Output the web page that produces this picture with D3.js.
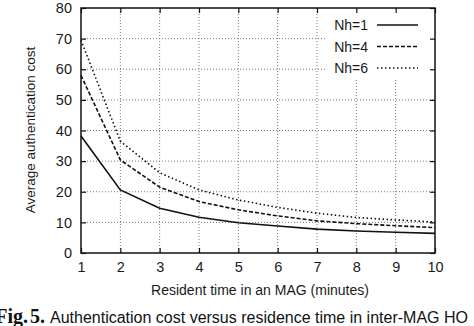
<!DOCTYPE html>
<html><head><meta charset="utf-8">
<script src="https://cdn.jsdelivr.net/npm/d3@7"></script>
<style>body{margin:0;background:#fff;}svg{display:block;}</style>
</head><body>
<script>
const xValues = [1,2,3,4,5,6,7,8,9,10];
const nh1 = [38.2,20.6,14.6,11.7,9.9,8.8,7.8,7.2,6.8,6.4];
const nh4 = [58,30.4,21.5,16.8,14.1,12.1,10.5,9.6,8.9,8.3];
const nh6 = [69.5,36.5,26.2,20.6,17.3,14.9,13.0,11.6,10.8,10.1];
const seriesNames = ["Nh=1","Nh=4","Nh=6"];
const xTicks = [1,2,3,4,5,6,7,8,9,10];
const yTicks = [0,10,20,30,40,50,60,70,80];
const xTitle = "Resident time in an MAG (minutes)";
const yTitle = "Average authentication cost";
const captionFig = "Fig.";
const captionNum = "5.";
const captionText = "Authentication cost versus residence time in inter-MAG HO";

const W=474,H=326;
const L=81,R=435,T=8,B=253;
const svg=d3.select("body").append("svg").attr("width",W).attr("height",H);
const x=d3.scaleLinear().domain([1,10]).range([L,R]);
const y=d3.scaleLinear().domain([0,80]).range([B,T]);
const font="'Liberation Sans', Arial, sans-serif";
const serif="'Liberation Serif', 'Times New Roman', serif";

// grid
const g=svg.append("g");
g.selectAll(".gx").data(xTicks.slice(1,-1)).join("line")
 .attr("x1",d=>x(d)).attr("x2",d=>x(d)).attr("y1",T).attr("y2",B)
 .attr("stroke","#777").attr("stroke-width",1).attr("stroke-dasharray","1,2");
g.selectAll(".gy").data(yTicks.slice(1,-1)).join("line")
 .attr("x1",L).attr("x2",R).attr("y1",d=>y(d)).attr("y2",d=>y(d))
 .attr("stroke","#777").attr("stroke-width",1).attr("stroke-dasharray","1,2");

// legend mask
svg.append("rect").attr("x",326).attr("y",T+1).attr("width",R-327).attr("height",70).attr("fill","#fff");

// axes
const xAxis=d3.axisBottom(x).tickValues(xTicks).tickSize(-5).tickPadding(9).tickFormat(d3.format("d"));
const xa=svg.append("g").attr("transform",`translate(0,${B})`).call(xAxis);
const yAxis=d3.axisLeft(y).tickValues(yTicks).tickSize(-5).tickPadding(9);
const ya=svg.append("g").attr("transform",`translate(${L},0)`).call(yAxis);
const xt=svg.append("g").attr("transform",`translate(0,${T})`).call(d3.axisTop(x).tickValues(xTicks).tickSize(-5).tickFormat(""));
const yr=svg.append("g").attr("transform",`translate(${R},0)`).call(d3.axisRight(y).tickValues(yTicks).tickSize(-5).tickFormat(""));
[xa,ya,xt,yr].forEach(a=>{
  a.select(".domain").remove();
  a.selectAll("line").attr("stroke","#111").attr("stroke-width",1.2);
  a.selectAll("text").attr("font-family",font).attr("font-size",14.5).attr("fill","#1a1a1a");
});
svg.append("rect").attr("x",L).attr("y",T).attr("width",R-L).attr("height",B-T)
 .attr("fill","none").attr("stroke","#111").attr("stroke-width",1.5);

// lines
const styles=[{dash:null},{dash:"4,2"},{dash:"1.5,2.5"}];
const data=[nh1,nh4,nh6];
const line=d3.line().x((d,i)=>x(xValues[i])).y(d=>y(d));
data.forEach((s,k)=>{
  svg.append("path").datum(s).attr("d",line).attr("fill","none").attr("stroke","#111")
   .attr("stroke-width",1.6).attr("stroke-dasharray",styles[k].dash);
});

// legend
seriesNames.forEach((n,k)=>{
  const yy=25+k*21.5;
  svg.append("text").attr("x",368).attr("y",yy+5).attr("text-anchor","end")
   .attr("font-family",font).attr("font-size",14).attr("fill","#1a1a1a").text(n);
  svg.append("line").attr("x1",377).attr("x2",418).attr("y1",yy).attr("y2",yy)
   .attr("stroke","#111").attr("stroke-width",1.6).attr("stroke-dasharray",styles[k].dash);
});

// titles
svg.append("text").attr("x",(L+R)/2+2).attr("y",295).attr("text-anchor","middle")
 .attr("font-family",font).attr("font-size",14).attr("fill","#1a1a1a").text(xTitle);
svg.append("text").attr("transform",`translate(35,130) rotate(-90)`).attr("text-anchor","middle")
 .attr("font-family",font).attr("font-size",13.5).attr("fill","#1a1a1a").text(yTitle);

// caption (cut at the edges as in the reference)
svg.append("text").attr("x",28).attr("y",323).attr("text-anchor","end")
 .attr("font-family",serif).attr("font-weight","bold").attr("font-size",20).attr("fill","#111").text(captionFig);
svg.append("text").attr("x",30).attr("y",323)
 .attr("font-family",serif).attr("font-weight","bold").attr("font-size",20).attr("fill","#111").text(captionNum);
svg.append("text").attr("x",50).attr("y",323)
 .attr("font-family",font).attr("font-size",16).attr("fill","#111").text(captionText);
</script>
</body></html>
